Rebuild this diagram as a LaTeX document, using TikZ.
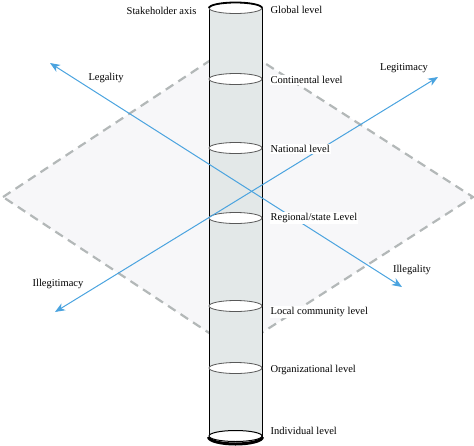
\documentclass[tikz,border=0pt]{standalone}
\usepackage{fontspec}
\setmainfont{Liberation Serif}
\usetikzlibrary{positioning,shapes.geometric,arrows.meta}
\definecolor{axisblue}{HTML}{4AA3DF}
\definecolor{planegray}{HTML}{B3B8B8}
\definecolor{planefill}{HTML}{F7F7F9}
\definecolor{tubefill}{HTML}{E3E8E8}

\begin{document}
\begin{tikzpicture}[x=1pt,y=-1pt,
    ring/.style={ellipse,draw=black!65,fill=white,line width=0.8pt,minimum width=53pt,minimum height=11pt,inner sep=0pt},
    lvl/.style={font=\fontsize{10.5}{12}\selectfont,inner sep=1pt,fill=white},
    axislbl/.style={font=\fontsize{10.5}{12}\selectfont,inner sep=1pt},
    blueaxis/.style={axisblue,line width=1pt,{Stealth[length=10pt,width=8pt,inset=3pt]}-{Stealth[length=10pt,width=8pt,inset=3pt]}}]
    \useasboundingbox (0,0) rectangle (474,445);

    \coordinate (p1) at (3,197);
    \coordinate (p2) at (235,44);
    \coordinate (p3) at (473,197);
    \coordinate (p4) at (235,350);
    \fill[planefill] (p1) -- (p2) -- (p3) -- (p4) -- cycle;
    \draw[planegray,line width=2.2pt,dash pattern=on 9pt off 6pt] (p1) -- (p2) -- (p3) -- (p4) -- cycle;

    \fill[tubefill] (209,8) rectangle (262,437);
    \draw[line width=3pt] (208.5,437) arc (180:0:27 and 7);
    \draw[line width=1pt] (209,8) -- (209,437) (262,8) -- (262,437);

    \node[ring] (c1) at (235.5,8) {};
    \node[ring] (c2) at (235.5,79) {};
    \node[ring] (c3) at (235.5,148) {};
    \node[ring] (c4) at (235.5,218) {};
    \node[ring] (c5) at (235.5,306) {};
    \node[ring] (c6) at (235.5,368) {};
    \node[ring,draw=black,line width=1pt] (c7) at (235.5,436) {};
    \draw[line width=1.8pt] (209,8) arc (180:360:26.5 and 5.5);

    \coordinate (lg) at (50,63);
    \coordinate (il) at (402,287);
    \coordinate (it) at (55,312);
    \coordinate (lt) at (438,77);
    \draw[blueaxis] (lg) -- (il);
    \draw[blueaxis] (it) -- (lt);

    \node[lvl,right=7pt of c1,yshift=-2pt] (l1) {Global level};
    \node[lvl,right=7pt of c2,yshift=-1pt] (l2) {Continental level};
    \node[lvl,right=7pt of c3,yshift=-1pt] (l3) {National level};
    \node[lvl,right=7pt of c4] (l4) {Regional/state Level};
    \node[lvl,right=7pt of c5,yshift=-6pt] (l5) {Local community level};
    \node[lvl,right=7pt of c6,yshift=-2pt] (l6) {Organizational level};
    \node[lvl,right=7pt of c7,yshift=5pt] (l7) {Individual level};
    \node[lvl,left=11pt of c1,yshift=-3pt] (sa) {Stakeholder axis};

    \node[axislbl] (lgl) at (106,78) {Legality};
    \node[axislbl] (ltl) at (404,68) {Legitimacy};
    \node[axislbl] (itl) at (58,284) {Illegitimacy};
    \node[axislbl] (ill) at (412,270) {Illegality};
\end{tikzpicture}
\end{document}
